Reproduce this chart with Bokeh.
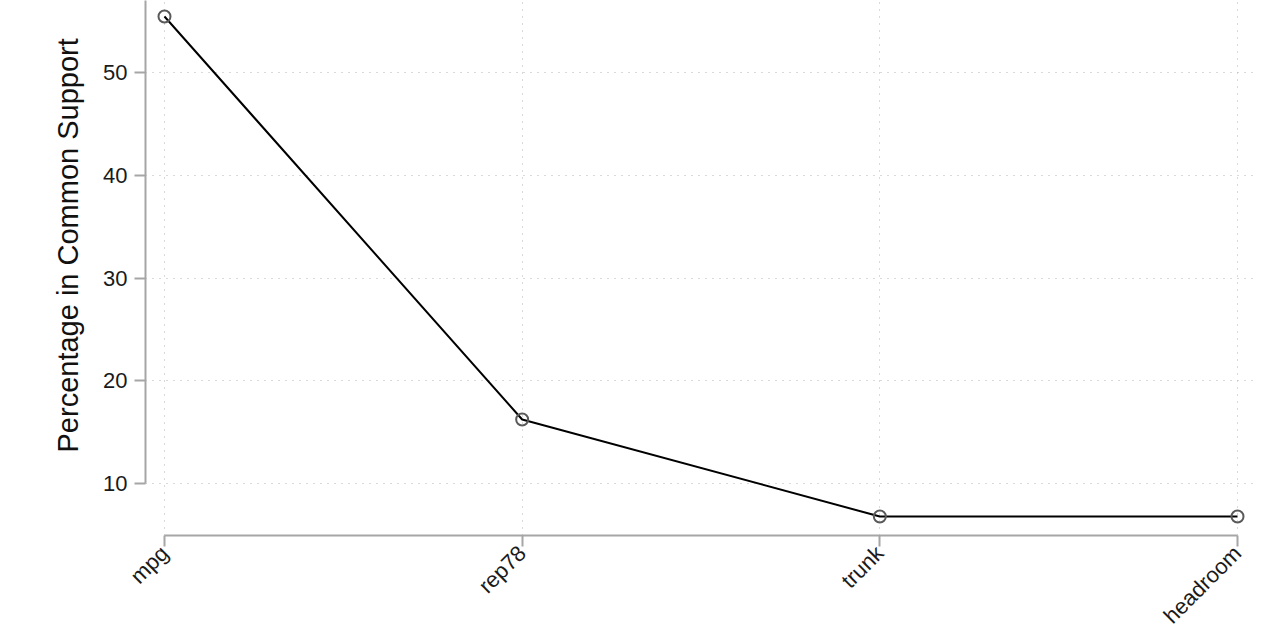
import math
from bokeh.plotting import figure
from bokeh.models import Range1d, FixedTicker, ColumnDataSource, Title
from bokeh.embed import file_html
from bokeh.resources import INLINE

# ---- data ----
categories = ["mpg", "rep78", "trunk", "headroom"]
pct_common_support = [55.45, 16.23, 6.79, 6.79]
y_ticks = [10, 20, 30, 40, 50]
y_label = "Percentage in Common Support"

xs = list(range(len(categories)))
src = ColumnDataSource(dict(x=xs, y=pct_common_support, cat=categories))

Y_BOTTOM, Y_TOP = 4.94, 57.01
p = figure(width=1280, height=640, output_backend="svg", toolbar_location=None,
           x_range=Range1d(-0.0531, len(categories) - 1 + 0.0531),
           y_range=Range1d(Y_BOTTOM, Y_TOP),
           min_border_left=145, min_border_right=24, min_border_top=0,
           min_border_bottom=105)
p.outline_line_color = None
p.background_fill_color = "white"
p.border_fill_color = "white"

# grid
for g in (p.xgrid, p.ygrid):
    g.grid_line_color = "#b4b4b4"
    g.grid_line_dash = "1 6"
    g.grid_line_width = 1
p.xgrid.ticker = FixedTicker(ticks=xs)
p.ygrid.ticker = FixedTicker(ticks=y_ticks)

# x axis
xa = p.xaxis[0]
xa.ticker = FixedTicker(ticks=xs)
xa.major_label_overrides = {i: c for i, c in enumerate(categories)}
xa.major_label_orientation = math.pi / 4
xa.bounds = (0, len(categories) - 1)
# y axis
ya = p.yaxis[0]
ya.ticker = FixedTicker(ticks=y_ticks)
ya.bounds = (10, Y_TOP)

for ax in (xa, ya):
    ax.axis_line_color = "#a6a6a6"
    ax.axis_line_width = 2
    ax.major_tick_line_color = "#a6a6a6"
    ax.major_tick_line_width = 2
    ax.major_tick_out = 11
    ax.major_tick_in = 0
    ax.minor_tick_line_color = None
    ax.major_label_text_font = "Liberation Sans"
    ax.major_label_text_font_size = "22px"
    ax.major_label_text_color = "#1a1a1a"
    ax.major_label_standoff = 7
xa.major_label_standoff = 3

ytitle = Title(text=y_label, align="left", offset=83,
               text_font="Liberation Sans", text_font_size="29px",
               text_font_style="normal", text_color="#111111", standoff=33)
p.add_layout(ytitle, "left")

p.line("x", "y", source=src, line_color="black", line_width=2)
p.scatter("x", "y", source=src, size=12, marker="circle", fill_color=None,
          line_color="#5a5a5a", line_width=2)

open("out.html", "w").write(file_html(p, INLINE))
